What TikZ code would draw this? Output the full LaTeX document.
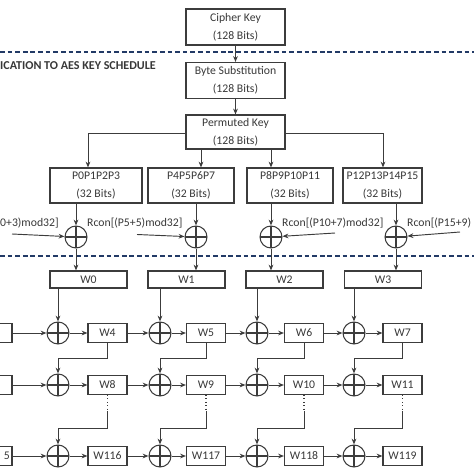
\documentclass[tikz,border=0pt]{standalone}
\usepackage{fontspec}
\setmainfont{Carlito}
\usetikzlibrary{arrows.meta, positioning, calc}
\definecolor{ksline}{HTML}{3C3C3C}
\definecolor{kstext}{HTML}{383838}
\definecolor{ksdash}{HTML}{223A66}
\newdimen\px \px=0.03cm

\begin{document}
\begin{tikzpicture}[
  x=0.03cm, y=-0.03cm,
  every node/.style={font=\fontsize{10}{12}\selectfont, text=kstext},
  bigbox/.style={rectangle, draw=ksline, line width=0.9pt, minimum width=99\px, minimum height=36\px, align=center, inner sep=1pt, font=\fontsize{10}{15}\selectfont},
  pbox/.style={rectangle, draw=ksline, line width=0.9pt, minimum height=35\px, align=center, inner sep=1pt, font=\fontsize{10}{15}\selectfont},
  wbox/.style={rectangle, draw=ksline, line width=0.9pt, minimum width=77\px, minimum height=17\px, inner sep=1pt},
  sbox/.style={rectangle, draw=ksline, line width=0.9pt, minimum width=39\px, minimum height=19\px, inner sep=1pt},
  xorop/.style={circle, draw=ksline, line width=0.9pt, minimum size=22\px, inner sep=0pt,
    path picture={\draw[ksline, line width=0.9pt] (path picture bounding box.north) -- (path picture bounding box.south)
      (path picture bounding box.west) -- (path picture bounding box.east);}},
  arr/.style={-{Stealth[length=5pt, width=4pt]}, draw=ksline, line width=0.8pt},
  sepline/.style={draw=ksdash, line width=1.1pt, dash pattern=on 4pt off 2.5pt},
]
\useasboundingbox (0,0) rectangle (474,474);
\clip (0,0) rectangle (474,474);

% top part
\node[bigbox] (key) at (235.5,27) {Cipher Key\\(128 Bits)};
\node[bigbox] (bsub) at (235.5,80.5) {Byte Substitution\\(128 Bits)};
\node[bigbox, minimum height=34\px] (perm) at (235.5,132) {Permuted Key\\(128 Bits)};
\node[anchor=west, inner sep=0pt, font=\fontsize{10.3}{12}\selectfont\bfseries] (title) at (0,66) {ICATION TO AES KEY SCHEDULE};

\coordinate (sepA) at (0,52);
\coordinate (sepB) at (474,52);
\coordinate (sepC) at (0,256);
\coordinate (sepD) at (474,256);
\draw[sepline] (sepA) -- (sepB);
\draw[sepline] (sepC) -- (sepD);

\draw[arr] (key) -- (bsub);
\draw[arr] (bsub) -- (perm);

% permuted parts
\node[pbox, minimum width=92\px] (p0) at (96,185.5) {P0P1P2P3\\(32 Bits)};
\node[pbox, minimum width=86\px] (p1) at (191,185.5) {P4P5P6P7\\(32 Bits)};
\node[pbox, minimum width=86\px] (p2) at (290,185.5) {P8P9P10P11\\(32 Bits)};
\node[pbox, minimum width=79\px] (p3) at (382.5,185.5) {P12P13P14P15\\(32 Bits)};

\draw[arr] (perm.west |- 0,133) -| (p0.north -| 88,0);
\draw[arr] (perm.east |- 0,133) -| (p3.north -| 383,0);
\draw[arr] (perm.south -| 201,0) -- (p1.north -| 201,0);
\draw[arr] (perm.south -| 271,0) -- (p2.north -| 271,0);

% rcon xor
\node[xorop] (x0) at (76,237) {};
\node[xorop] (x1) at (196,237) {};
\node[xorop] (x2) at (271,237) {};
\node[xorop] (x3) at (396,237) {};

\node[anchor=west, inner sep=0pt] (rc0) at (0,223) {0+3)mod32]};
\node[anchor=west, inner sep=0pt] (rc1) at (87,223) {Rcon[(P5+5)mod32]};
\node[anchor=west, inner sep=0pt] (rc2) at (282,223) {Rcon[(P10+7)mod32]};
\node[anchor=west, inner sep=0pt] (rc3) at (407,223) {Rcon[(P15+9)};

\coordinate (in0) at (12,234);
\coordinate (in1) at (137,234.5);
\coordinate (in2) at (335,233);
\coordinate (in3) at (460,232);
\draw[arr] (in0) -- (x0);
\draw[arr] (in1) -- (x1);
\draw[arr] (in2) -- (x2);
\draw[arr] (in3) -- (x3);

\draw[arr] (x0 |- p0.south) -- (x0);
\draw[arr] (x1 |- p1.south) -- (x1);
\draw[arr] (x2 |- p2.south) -- (x2);
\draw[arr] (x3 |- p3.south) -- (x3);

% first words
\node[wbox] (w0) at (88.5,279.5) {W0};
\node[wbox] (w1) at (186.5,279.5) {W1};
\node[wbox] (w2) at (284.5,279.5) {W2};
\node[wbox] (w3) at (383,279.5) {W3};

\draw[arr] (x0) -- (x0 |- w0.north);
\draw[arr] (x1) -- (x1 |- w1.north);
\draw[arr] (x2) -- (x2 |- w2.north);
\draw[arr] (x3) -- (x3 |- w3.north);

% rows of words
\foreach \r/\yy/\wna/\wnb/\wnc/\wnd in {a/333/W4/W5/W6/W7, b/385/W8/W9/W10/W11, c/456/W116/W117/W118/W119} {
  \node[sbox] (\r L) at (-7.5,\yy) {};
  \node[xorop] (\r 1) at (58,\yy) {};
  \node[sbox] (\r W1) at (107.5,\yy) {\wna};
  \node[xorop] (\r 2) at (160,\yy) {};
  \node[sbox] (\r W2) at (206,\yy) {\wnb};
  \node[xorop] (\r 3) at (257,\yy) {};
  \node[sbox] (\r W3) at (304,\yy) {\wnc};
  \node[xorop] (\r 4) at (354,\yy) {};
  \node[sbox] (\r W4) at (402.5,\yy) {\wnd};
  \draw[arr] (\r L) -- (\r 1);
  \draw[arr] (\r 1) -- (\r W1);
  \draw[arr] (\r W1) -- (\r 2);
  \draw[arr] (\r 2) -- (\r W2);
  \draw[arr] (\r W2) -- (\r 3);
  \draw[arr] (\r 3) -- (\r W3);
  \draw[arr] (\r W3) -- (\r 4);
  \draw[arr] (\r 4) -- (\r W4);
}
\node[anchor=east, inner sep=0pt] (cLt) at (10,456) {5};

\draw[arr] (w0.south -| a1) -- (a1.north);
\draw[arr] (w1.south -| a2) -- (a2.north);
\draw[arr] (w2.south -| a3) -- (a3.north);
\draw[arr] (w3.south -| a4) -- (a4.north);

\foreach \i in {1,...,4} {
  \draw[arr] (aW\i.south) -- (aW\i.south |- 0,358) -| (b\i.north);
  \draw[ksline, line width=0.9pt, dotted] (bW\i.south) -- ++(0,16);
  \draw[arr] ($(bW\i.south)+(0,16)$) -- (bW\i.south |- 0,428) -| (c\i.north);
}
\end{tikzpicture}
\end{document}
